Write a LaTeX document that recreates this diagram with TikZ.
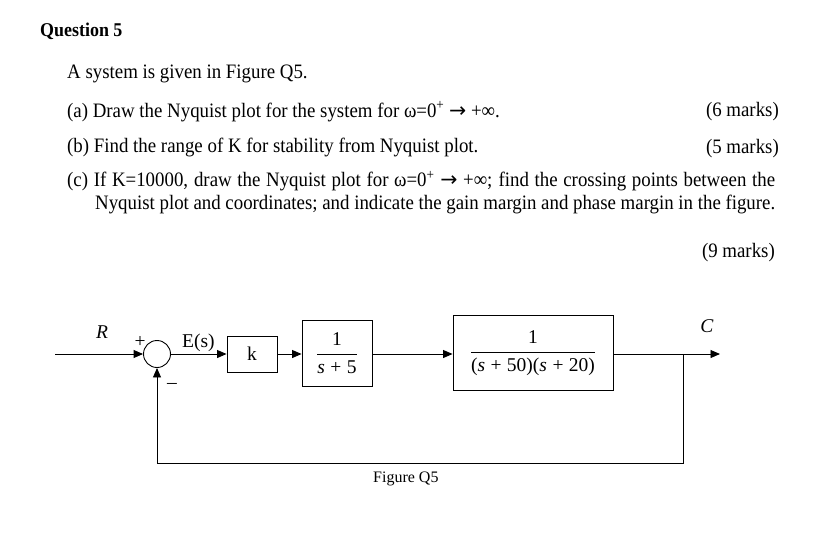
\documentclass[tikz,border=0pt]{standalone}
\usepackage{amsmath}
\usepackage{fontspec}
\setmainfont[FakeStretch=0.92]{Liberation Serif}
\newfontfamily\diagfont{Liberation Serif}
\newfontfamily\arrowfont{DejaVu Sans}
\newcommand{\toarrow}{{\arrowfont →}}
\usepackage{tikz}
\usetikzlibrary{positioning,calc,arrows.meta}

\begin{document}
\begin{tikzpicture}[x=1pt,y=-1pt,
    txt/.style={inner sep=0pt, anchor=base west, font=\fontsize{20.5}{23}\selectfont},
    marks/.style={txt, anchor=base east},
    block/.style={draw, line width=0.9pt, inner sep=2pt, font=\diagfont\fontsize{19.5}{23}\selectfont},
    sumnode/.style={draw, circle, line width=0.9pt, minimum size=27pt, inner sep=0pt},
    sig/.style={line width=0.9pt},
    sigarrow/.style={sig, -{Triangle[length=9.5pt,width=8pt]}},
    lbl/.style={inner sep=0pt, font=\diagfont\fontsize{19.5}{23}\selectfont}]
    \useasboundingbox (0,0) rectangle (822,539);

    % Question text
    \node[txt, font=\fontsize{19.5}{23}\selectfont] (qhead) at (40,36) {\bfseries Question 5};
    \node[txt] (intro) at (67,78) {A system is given in Figure Q5.};
    \node[txt] (parta) at (67,117) {(a) Draw the Nyquist plot for the system for ω=0\textsuperscript{+} \toarrow{} +∞.};
    \node[marks] (marka) at (779,116) {(6 marks)};
    \node[txt] (partb) at (67,152) {(b) Find the range of K for stability from Nyquist plot.};
    \node[marks] (markb) at (779,153) {(5 marks)};
    \node[txt, anchor=north west] (partc) at (67,171) {\parbox[t]{708pt}{\hangindent=28pt\hangafter=1
        (c) If K=10000, draw the Nyquist plot for ω=0\textsuperscript{+} \toarrow{} +∞; find the crossing points between the\linebreak
        Nyquist plot and coordinates; and indicate the gain margin and phase margin in the figure.}};
    \node[marks] (markc) at (775,257) {(9 marks)};

    % Blocks
    \coordinate (rin) at (55,354);
    \node[sumnode] (sum) at (157,354) {};
    \node[block, minimum width=50pt, minimum height=36pt] (kgain) at (252,354) {k};
    \node[block, minimum width=70pt, minimum height=66pt] (plant1) at (337,353)
        {$\dfrac{\mbox{1}}{\mbox{\textit{s}\;+\;5}}$};
    \node[block, minimum width=160pt, minimum height=75pt] (plant2) at (533,353)
        {$\dfrac{\mbox{1}}{\mbox{(\textit{s}\;+\;50)(\textit{s}\;+\;20)}}$};
    \coordinate (branch) at (683,354);
    \coordinate (cout) at (720,354);
    \coordinate (fbcorner) at (683,463);

    % Signals
    \draw[sigarrow] (rin) -- (sum.west);
    \draw[sigarrow] (sum.east) -- (kgain.west);
    \draw[sigarrow] (kgain.east) -- (kgain.east -| plant1.west);
    \draw[sigarrow] (plant1.east |- kgain.east) -- (kgain.east -| plant2.west);
    \draw[sigarrow] (plant2.east |- kgain.east) -- (cout);
    \draw[sigarrow] (branch) -- (fbcorner) -| (sum.south);

    % Labels
    \node[lbl, anchor=base] (rlbl) at (102,338) {\textit{R}};
    \node[lbl] (plus) at (140,342) {+};
    \node[lbl] (minus) at (172,386) {\textendash};
    \node[lbl, anchor=base west] (elbl) at (182,347) {E(s)};
    \node[lbl, anchor=base] (clbl) at (707,332) {\textit{C}};
    \node[inner sep=0pt, anchor=base west, font=\diagfont\fontsize{16}{19}\selectfont] (figcap) at (373,482) {Figure Q5};
\end{tikzpicture}
\end{document}
